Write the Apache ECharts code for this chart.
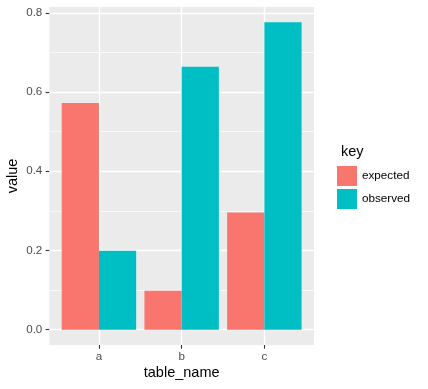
<!DOCTYPE html>
<html>
<head>
<meta charset="utf-8">
<script src="https://cdn.jsdelivr.net/npm/echarts@6/dist/echarts.min.js"></script>
<style>html,body{margin:0;padding:0;background:#fff}#c{width:428px;height:389px}</style>
</head>
<body>
<div id="c"></div>
<script>
var categories = ['a', 'b', 'c'];
var expected = [0.5725, 0.0985, 0.296];
var observed = [0.1995, 0.664, 0.776];
var yTicks = [0, 0.2, 0.4, 0.6, 0.8];
var yMinorTicks = [0.1, 0.3, 0.5, 0.7];
var xPositions = [1, 2, 3];
var seriesNames = ['expected', 'observed'];

var yMin = -0.0388, yMax = 0.8148;
var FONT = 'Liberation Sans, Arial, sans-serif';

var chart = echarts.init(document.getElementById('c'), null, {renderer: 'canvas'});
chart.setOption({
  animation: false,
  color: ['#F8766D', '#00BFC4'],
  title: {
    text: 'key', left: 336, top: 139,
    textStyle: {fontFamily: FONT, fontSize: 14.5, fontWeight: 'normal', color: '#000'}
  },
  legend: {
    data: seriesNames, orient: 'vertical', left: 337, top: 166,
    itemWidth: 20, itemHeight: 20, itemGap: 3, icon: 'rect',
    textStyle: {fontFamily: FONT, fontSize: 11.7, color: '#000', padding: [0, 0, 0, 0]},
    padding: 0
  },
  grid: [
    {left: 49.3, right: 114, top: 7, bottom: 44, show: true, backgroundColor: '#EBEBEB', borderWidth: 0,
      containLabel: false, outerBoundsMode: 'none'},
    {left: 57.57, right: 122.27, top: 7, bottom: 44, containLabel: false, outerBoundsMode: 'none'}
  ],
  xAxis: [
    {
      gridIndex: 0, type: 'value', min: 0.4, max: 3.6, position: 'bottom',
      name: 'table_name', nameLocation: 'middle', nameGap: 20, nameMoveOverlap: false,
      nameTextStyle: {fontFamily: FONT, fontSize: 14.5, color: '#000'},
      axisLine: {show: false, onZero: false},
      axisTick: {show: true, length: 3.7, lineStyle: {color: '#333333', width: 1.1}, customValues: xPositions},
      axisLabel: {customValues: xPositions, margin: 6, fontFamily: FONT, fontSize: 11.6, color: '#4D4D4D',
        formatter: function (v) { return categories[Math.round(v) - 1] || ''; }},
      splitLine: {show: true, lineStyle: {color: '#FFFFFF', width: 1.4}}
    },
    {
      gridIndex: 1, type: 'category', data: categories,
      axisLine: {show: false}, axisTick: {show: false}, axisLabel: {show: false}, splitLine: {show: false}
    }
  ],
  yAxis: [
    {
      gridIndex: 0, type: 'value', min: yMin, max: yMax,
      name: 'value', nameLocation: 'middle', nameGap: 29, nameRotate: 90, nameMoveOverlap: false,
      nameTextStyle: {fontFamily: FONT, fontSize: 14.5, color: '#000'},
      axisLine: {show: false, onZero: false},
      axisTick: {show: true, length: 3.7, lineStyle: {color: '#333333', width: 1.1}, customValues: yTicks},
      axisLabel: {customValues: yTicks, margin: 7, fontFamily: FONT, fontSize: 11.6, color: '#4D4D4D',
        formatter: function (v) { return v.toFixed(1); }},
      splitLine: {show: true, lineStyle: {color: '#FFFFFF', width: 1.4}}
    },
    {
      gridIndex: 0, type: 'value', min: yMin, max: yMax, position: 'left',
      axisLine: {show: false, onZero: false},
      axisTick: {show: false, customValues: yMinorTicks},
      axisLabel: {show: false, customValues: yMinorTicks},
      splitLine: {show: true, lineStyle: {color: '#FFFFFF', width: 0.7}}
    },
    {
      gridIndex: 1, type: 'value', min: yMin, max: yMax,
      axisLine: {show: false}, axisTick: {show: false}, axisLabel: {show: false}, splitLine: {show: false}
    }
  ],
  series: [
    {name: seriesNames[0], type: 'bar', xAxisIndex: 1, yAxisIndex: 2, data: expected,
      barCategoryGap: '10%', barGap: '0%', z: 3},
    {name: seriesNames[1], type: 'bar', xAxisIndex: 1, yAxisIndex: 2, data: observed,
      barCategoryGap: '10%', barGap: '0%', z: 3}
  ]
});
</script>
</body>
</html>
